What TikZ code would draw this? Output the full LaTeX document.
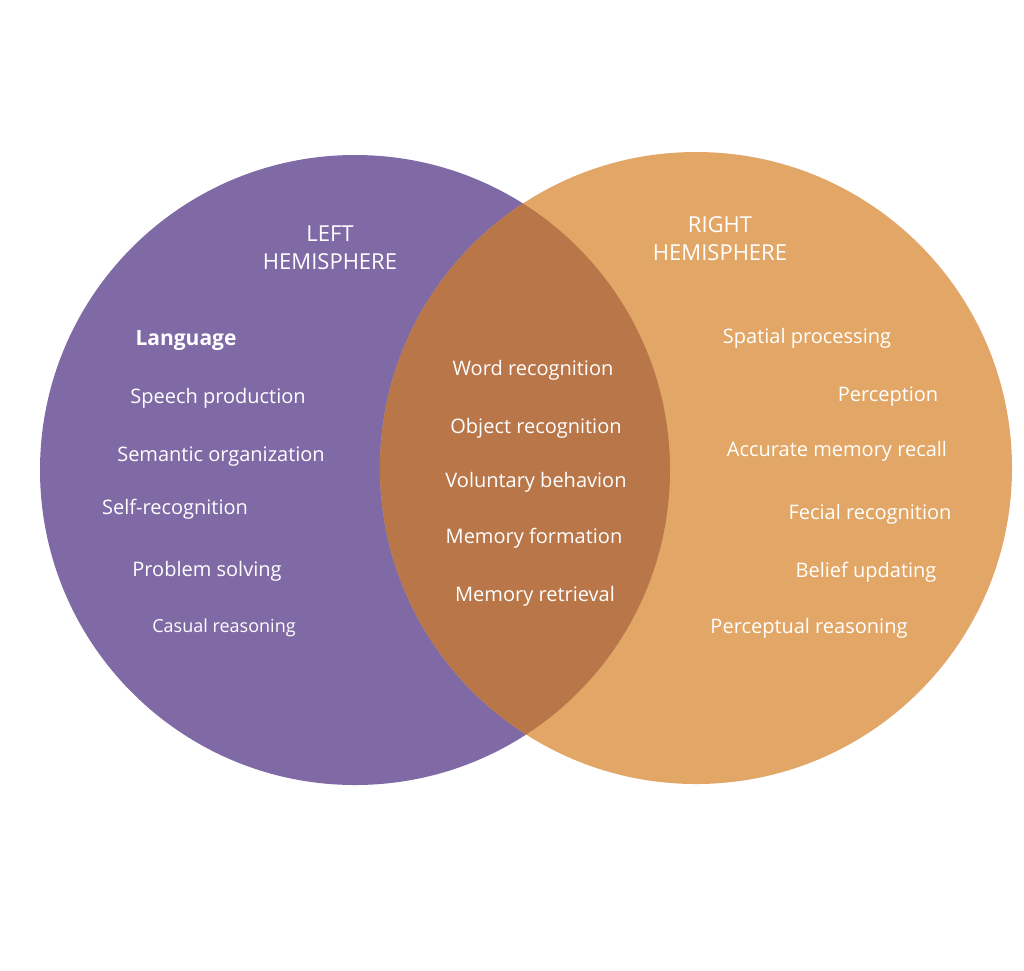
\documentclass[tikz,border=0pt]{standalone}
\usepackage{fontspec}
\setmainfont{Open Sans}
\definecolor{lp}{HTML}{7F6AA6}
\definecolor{ro}{HTML}{E2A766}
\definecolor{ov}{HTML}{B87649}
\begin{document}
\begin{tikzpicture}[x=1pt,y=-1pt,
 t/.style={text=white,font=\fontsize{20}{24}\selectfont,inner sep=0pt},
 h/.style={text=white,font=\fontsize{22}{28}\selectfont,align=center,inner sep=0pt}]
\useasboundingbox[fill=white] (0,0) rectangle (1024,970);
\fill[lp] (355,470) circle (315);
\fill[ro] (696,468) circle (316);
\begin{scope}
\clip (355,470) circle (315);
\fill[ov] (696,468) circle (316);
\end{scope}
\node[h] (lh) at (330,248) {LEFT\\HEMISPHERE};
\node[h] (rh) at (720,239) {RIGHT\\HEMISPHERE};
\node[t,font=\fontsize{21}{24}\selectfont\bfseries] (a1) at (186,341) {Language};
\node[t] (a2) at (218,398) {Speech production};
\node[t] (a3) at (221,457) {Semantic organization};
\node[t] (a4) at (175,509) {Self-recognition};
\node[t] (a5) at (207,571) {Problem solving};
\node[t,font=\fontsize{18}{22}\selectfont] (a6) at (224,628) {Casual reasoning};
\node[t] (b1) at (533,370) {Word recognition};
\node[t] (b2) at (536,428) {Object recognition};
\node[t] (b3) at (536,482) {Voluntary behavion};
\node[t] (b4) at (534,538) {Memory formation};
\node[t] (b5) at (535,596) {Memory retrieval};
\node[t] (c1) at (807,338) {Spatial processing};
\node[t] (c2) at (888,397) {Perception};
\node[t] (c3) at (837,451) {Accurate memory recall};
\node[t] (c4) at (870,514) {Fecial recognition};
\node[t] (c5) at (866,572) {Belief updating};
\node[t] (c6) at (809,628) {Perceptual reasoning};
\end{tikzpicture}
\end{document}
